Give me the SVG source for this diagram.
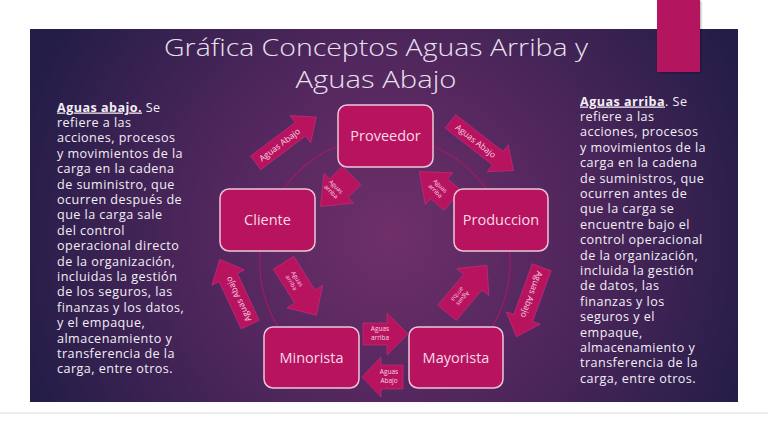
<svg xmlns="http://www.w3.org/2000/svg" width="768" height="433" viewBox="0 0 768 433">
<defs>
<radialGradient id="bg" gradientUnits="userSpaceOnUse" cx="390" cy="235" r="390">
<stop offset="0" stop-color="#6f2f69"/>
<stop offset="0.45" stop-color="#52275e"/>
<stop offset="1" stop-color="#231d47"/>
</radialGradient>
<filter id="sh" x="-20%" y="-20%" width="140%" height="140%">
<feDropShadow dx="1" dy="1" stdDeviation="1.2" flood-color="#000" flood-opacity="0.35"/>
</filter>
</defs>
<style>
.node rect{fill:#b8135f;stroke:#ecc6da;stroke-width:1.5}
.node text{font-family:"Open Sans","Liberation Sans",sans-serif;font-size:14.5px;fill:#f6dbe8;text-anchor:middle}
.arr{fill:#b8135f;stroke:#c8307a;stroke-width:0.6}
.at{font-family:"Open Sans","Liberation Sans",sans-serif;fill:#f3d6e4;text-anchor:middle}
.arc{fill:none;stroke:#a51a66;stroke-width:1.1}
.body{font-family:"Open Sans","Liberation Sans",sans-serif;font-size:12.6px;letter-spacing:0.45px;fill:#f3eef6}
.title{font-family:"Open Sans","Liberation Sans",sans-serif;font-size:23px;fill:#e9e0ee;text-anchor:middle;font-weight:300}
</style>
<rect x="0" y="0" width="768" height="433" fill="#ffffff"/>
<line x1="0" y1="413" x2="768" y2="413" stroke="#d8d6de" stroke-width="1"/>
<rect x="30" y="29" width="708" height="373" fill="url(#bg)"/>
<rect x="657" y="0" width="43" height="72" fill="#b3135f" filter="url(#sh)"/>

<g id="title">
<text class="title" x="376" y="56" textLength="424" lengthAdjust="spacingAndGlyphs">Gráfica Conceptos Aguas Arriba y</text>
<text class="title" x="376" y="88" textLength="161" lengthAdjust="spacingAndGlyphs">Aguas Abajo</text>
</g>

<g id="left-text" class="body">
<text x="57" y="111.5"><tspan font-weight="bold" text-decoration="underline">Aguas abajo.</tspan> Se</text>
<text x="57" y="126.9">refiere a las</text>
<text x="57" y="142.3">acciones, procesos</text>
<text x="57" y="157.7">y movimientos de la</text>
<text x="57" y="173.1">carga en la cadena</text>
<text x="57" y="188.5">de suministro, que</text>
<text x="57" y="203.9">ocurren después de</text>
<text x="57" y="219.3">que la carga sale</text>
<text x="57" y="234.7">del control</text>
<text x="57" y="250.1">operacional directo</text>
<text x="57" y="265.5">de la organización,</text>
<text x="57" y="280.9">incluidas la gestión</text>
<text x="57" y="296.3">de los seguros, las</text>
<text x="57" y="311.7">finanzas y los datos,</text>
<text x="57" y="327.1">y el empaque,</text>
<text x="57" y="342.5">almacenamiento y</text>
<text x="57" y="357.9">transferencia de la</text>
<text x="57" y="373.3">carga, entre otros.</text>
</g>

<g id="right-text" class="body">
<text x="580" y="105.5"><tspan font-weight="bold" text-decoration="underline">Aguas arriba</tspan>. Se</text>
<text x="580" y="120.9">refiere a las</text>
<text x="580" y="136.3">acciones, procesos</text>
<text x="580" y="151.7">y movimientos de la</text>
<text x="580" y="167.1">carga en la cadena</text>
<text x="580" y="182.5">de suministros, que</text>
<text x="580" y="197.9">ocurren antes de</text>
<text x="580" y="213.3">que la carga se</text>
<text x="580" y="228.7">encuentre bajo el</text>
<text x="580" y="244.1">control operacional</text>
<text x="580" y="259.5">de la organización,</text>
<text x="580" y="274.9">incluida la gestión</text>
<text x="580" y="290.3">de datos, las</text>
<text x="580" y="305.7">finanzas y los</text>
<text x="580" y="321.1">seguros y el</text>
<text x="580" y="336.5">empaque,</text>
<text x="580" y="351.9">almacenamiento y</text>
<text x="580" y="367.3">transferencia de la</text>
<text x="580" y="382.7">carga, entre otros.</text>
</g>

<g id="connectors">
<path class="arc" d="M338,146 A125,125 0 0 0 283.5,189"/>
<path class="arc" d="M432,146 A125,125 0 0 1 486.5,189"/>
<path class="arc" d="M260.5,251 A125,125 0 0 0 278,327"/>
<path class="arc" d="M509.5,251 A125,125 0 0 1 492,327"/>

<g transform="translate(286,140) rotate(-37)">
<path class="arr" d="M-38,-8.5 H18 V-17 L38,0 L18,17 V8.5 H-38 Z"/>
<text class="at" x="-8" y="3" font-size="8.5">Aguas Abajo</text>
</g>
<g transform="translate(482,146) rotate(38)">
<path class="arr" d="M-40,-8.5 H20 V-17 L40,0 L20,17 V8.5 H-40 Z"/>
<text class="at" x="-8" y="3" font-size="8.5">Aguas Abajo</text>
</g>
<g transform="translate(336,191)">
<path class="arr" transform="rotate(135)" d="M-22,-13 H-4 V-21 L22,0 L-4,21 V13 H-22 Z"/>
<g transform="rotate(45)">
<text class="at" x="-3" y="-1" font-size="6">Aguas</text>
<text class="at" x="-3" y="6" font-size="6">arriba</text>
</g>
</g>
<g transform="translate(436,186)">
<path class="arr" transform="rotate(-139)" d="M-22,-13 H-4 V-21 L22,0 L-4,21 V13 H-22 Z"/>
<g transform="rotate(45)">
<text class="at" x="3" y="-1" font-size="6">Aguas</text>
<text class="at" x="3" y="6" font-size="6">arriba</text>
</g>
</g>
<g transform="translate(235,292) rotate(-115)">
<path class="arr" d="M-36,-10 H16 V-18 L36,0 L16,18 V10 H-36 Z"/>
<text class="at" x="-8" y="3" font-size="8.5">Aguas Abajo</text>
</g>
<g transform="translate(300,289) rotate(58)">
<path class="arr" d="M-31,-12 H9 V-21 L31,0 L9,21 V12 H-31 Z"/>
<text class="at" x="-10" y="-1" font-size="6">Aguas</text>
<text class="at" x="-10" y="6" font-size="6">arriba</text>
</g>
<g transform="translate(467,289)">
<path class="arr" transform="rotate(-50)" d="M-31,-12 H9 V-21 L31,0 L9,21 V12 H-31 Z"/>
<g transform="rotate(130)">
<text class="at" x="10" y="-1" font-size="6">Aguas</text>
<text class="at" x="10" y="6" font-size="6">arriba</text>
</g>
</g>
<g transform="translate(529,302) rotate(110)">
<path class="arr" d="M-37,-10 H17 V-18 L37,0 L17,18 V10 H-37 Z"/>
<text class="at" x="-8" y="3" font-size="8.5">Aguas Abajo</text>
</g>
<g>
<path class="arr" d="M363,323 H387 V313 L408,334 L387,355 V345 H363 Z"/>
<text class="at" x="380" y="331" font-size="6.5">Aguas</text>
<text class="at" x="380" y="340" font-size="6.5">arriba</text>
</g>
<g>
<path class="arr" d="M403,365 H381 V357 L362,377 L381,397 V389 H403 Z"/>
<text class="at" x="389" y="374" font-size="6.5">Aguas</text>
<text class="at" x="389" y="383" font-size="6.5">Abajo</text>
</g>
</g>

<g id="proveedor" class="node"><rect x="338" y="105" width="95" height="62" rx="9"/><text x="385.5" y="141">Proveedor</text></g>
<g id="cliente" class="node"><rect x="220" y="189" width="95" height="62" rx="9"/><text x="267.5" y="225">Cliente</text></g>
<g id="produccion" class="node"><rect x="454" y="189" width="94" height="62" rx="9"/><text x="501" y="225">Produccion</text></g>
<g id="minorista" class="node"><rect x="264" y="327" width="95" height="61" rx="9"/><text x="311.5" y="363">Minorista</text></g>
<g id="mayorista" class="node"><rect x="409" y="327" width="94" height="61" rx="9"/><text x="456" y="363">Mayorista</text></g>
</svg>
